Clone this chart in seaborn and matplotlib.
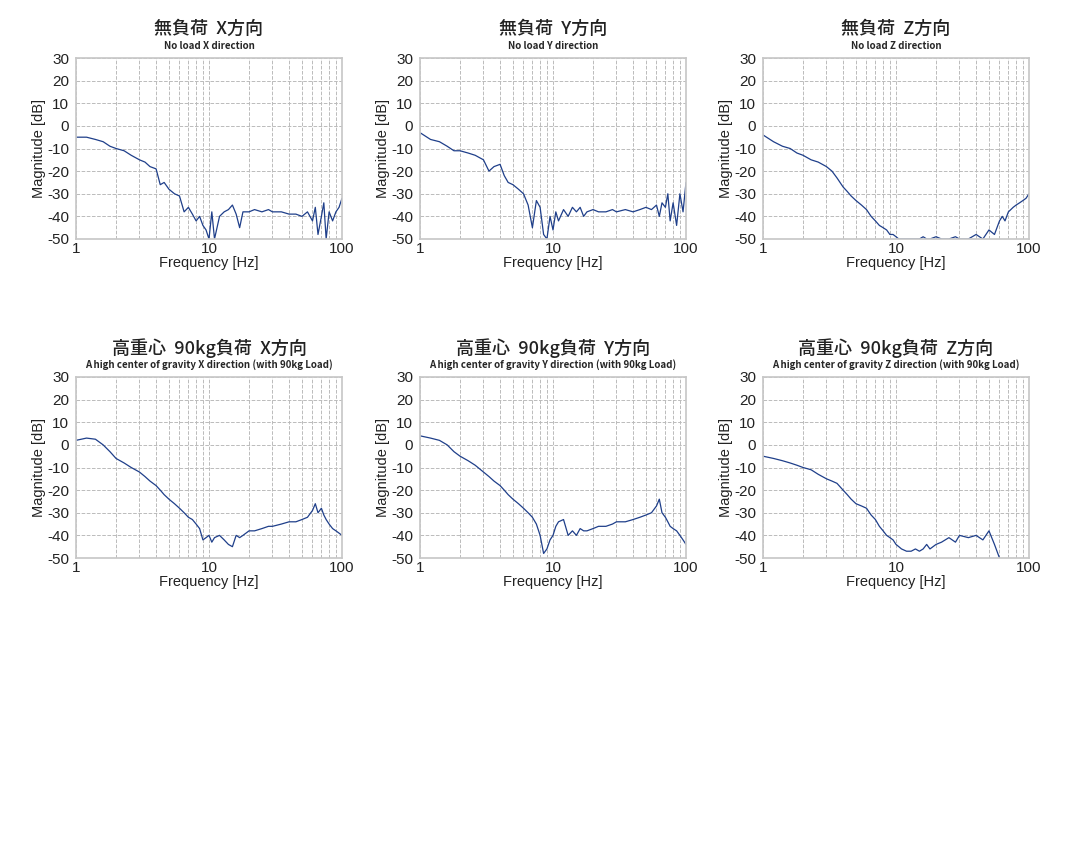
import numpy as np
import pandas as pd
import matplotlib
matplotlib.use("Agg")
import matplotlib.pyplot as plt
import seaborn as sns
from matplotlib.ticker import LogLocator, FixedLocator, NullFormatter

sns.set_theme(style="white")
plt.rcParams['font.family'] = ['Liberation Sans', 'Noto Sans CJK JP', 'DejaVu Sans']
plt.rcParams['axes.unicode_minus'] = False

nan = np.nan
freq = [1, 1.2, 1.4, 1.6, 1.8, 2, 2.3, 2.6, 3, 3.3, 3.6, 4, 4.3, 4.6, 5, 5.5, 6, 6.5,
        7, 7.5, 8, 8.5, 9, 9.5, 10, 10.5, 11, 12, 13, 14, 15, 16, 17, 18, 20, 22,
        25, 28, 30, 35, 40, 45, 50, 55, 60, 63, 66, 70, 73, 76, 80, 85, 90, 95, 100]

nl_x = [-5, -5, -6, -7, -9, -10, -11, -13, -15, -16, -18, -19, -26, -25, -28, -30, -31, -38,
        -36, -39, -42, -40, -44, -46, -50, -38, -50, -40, -38, -37, -35, -39, -45, -38, -38, -37,
        -38, -37, -38, -38, -39, -39, -40, -38, -42, -36, -48, -40, -34, -50, -38, -42, -38, -36, -32]
nl_y = [-3, -6, -7, -9, -11, -11, -12, -13, -15, -20, -18, -17, -22, -25, -26, -28, -30, -35,
        -45, -33, -36, -48, -50, -40, -46, -38, -42, -37, -40, -36, -38, -36, -40, -38, -37, -38,
        -38, -37, -38, -37, -38, -37, -36, -37, -35, -40, -34, -36, -30, -42, -34, -44, -30, -38, -25]
nl_z = [-4, -7, -9, -10, -12, -13, -15, -16, -18, -20, -23, -27, -29, -31, -33, -35, -37, -40,
        -42, -44, -45, -46, -48, -48, -49, -50, -50, -50, -50, -50, -50, -49, -50, -50, -49, -50,
        -50, -49, -50, -50, -48, -50, -46, -48, -42, -40, -42, -38, -37, -36, -35, -34, -33, -32, -30]
ld_x = [2, 3, 2.5, 0, -3, -6, -8, -10, -12, -14, -16, -18, -20, -22, -24, -26, -28, -30,
        -32, -33, -35, -37, -42, -41, -40, -43, -41, -40, -42, -44, -45, -40, -41, -40, -38, -38,
        -37, -36, -36, -35, -34, -34, -33, -32, -29, -26, -30, -28, -31, -33, -35, -37, -38, -39, -40]
ld_y = [4, 3, 2, 0, -3, -5, -7, -9, -12, -14, -16, -18, -20, -22, -24, -26, -28, -30,
        -32, -35, -40, -48, -46, -42, -40, -36, -34, -33, -40, -38, -40, -37, -38, -38, -37, -36,
        -36, -35, -34, -34, -33, -32, -31, -30, -27, -24, -30, -32, -34, -36, -37, -38, -40, -42, -44]
ld_z = [-5, -6, -7, -8, -9, -10, -11, -13, -15, -16, -17, -20, -22, -24, -26, -27, -28, -31,
        -33, -36, -38, -40, -41, -42, -44, -45, -46, -47, -47, -46, -47, -46, -44, -46, -44, -43,
        -41, -43, -40, -41, -40, -42, -38, -44, -50, nan, nan, nan, nan, nan, nan, nan, nan, nan, nan]

titles = ["無負荷  X方向", "無負荷  Y方向", "無負荷  Z方向",
          "高重心  90kg負荷  X方向", "高重心  90kg負荷  Y方向", "高重心  90kg負荷  Z方向"]
subtitles = ["No load X direction", "No load Y direction", "No load Z direction",
             "A high center of gravity X direction (with 90kg Load)",
             "A high center of gravity Y direction (with 90kg Load)",
             "A high center of gravity Z direction (with 90kg Load)"]
series = [nl_x, nl_y, nl_z, ld_x, ld_y, ld_z]

fig = plt.figure(figsize=(10.8, 8.42), dpi=100)
lefts = [76, 420, 763]
tops = [58, 377]
W, H = 266, 181
for i in range(6):
    r, c = divmod(i, 3)
    ax = fig.add_axes([lefts[c] / 1080, 1 - (tops[r] + H) / 842, W / 1080, H / 842])
    df = pd.DataFrame({"f": freq, "m": series[i]})
    sns.lineplot(data=df, x="f", y="m", ax=ax, color="#1f3f8a", lw=0.9, sort=False)
    ax.set_xscale("log")
    ax.set_xlim(1, 100)
    ax.set_ylim(-50, 30)
    ax.set_yticks(range(-50, 31, 10))
    ax.xaxis.set_major_locator(FixedLocator([1, 10, 100]))
    ax.set_xticklabels(["1", "10", "100"])
    ax.xaxis.set_minor_locator(LogLocator(base=10, subs=np.arange(2, 10)))
    ax.xaxis.set_minor_formatter(NullFormatter())
    ax.grid(True, which="both", axis="x", ls="--", color="#bbbbbb", lw=0.7)
    ax.grid(True, which="major", axis="y", ls="--", color="#bbbbbb", lw=0.7)
    for s in ax.spines.values():
        s.set_color("#c8c8c8")
    ax.tick_params(axis="y", which="both", length=0, labelsize=11, pad=5, colors="#222222")
    ax.tick_params(axis="x", which="both", length=0, labelsize=11, pad=2, colors="#222222")
    ax.set_xlabel("Frequency [Hz]", fontsize=10.5, labelpad=0, color="#222222")
    ax.set_ylabel("Magnitude [dB]", fontsize=10.5, labelpad=1, color="#222222")
    cx = (lefts[c] + W / 2) / 1080
    fig.text(cx, 1 - (tops[r] - 29) / 842, titles[i], ha="center", va="center",
             fontsize=13, fontweight="medium", family=['Noto Sans CJK JP', 'DejaVu Sans'], color="#222222")
    fig.text(cx, 1 - (tops[r] - 12) / 842, subtitles[i], ha="center", va="center",
             fontsize=7, fontweight="bold", family=['Noto Sans CJK JP', 'DejaVu Sans'])

fig.savefig("out.png", dpi=100, facecolor="white")
